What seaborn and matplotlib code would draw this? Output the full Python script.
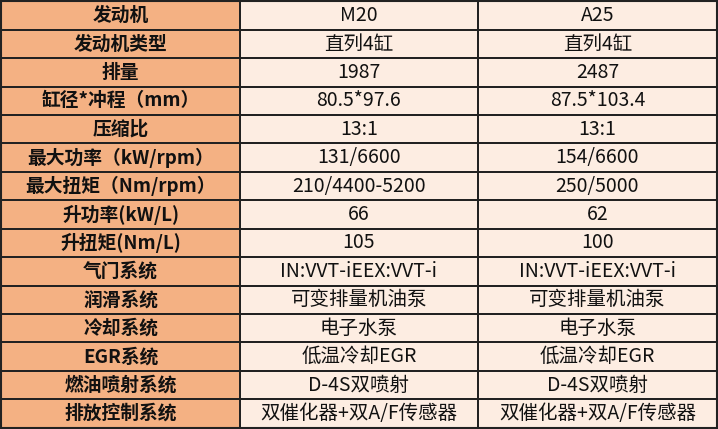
import matplotlib
matplotlib.use("Agg")
import matplotlib.pyplot as plt
import seaborn as sns
import numpy as np
from matplotlib.colors import ListedColormap

sns.set_theme(style="white")
plt.rcParams['font.family'] = ['Noto Sans CJK SC', 'DejaVu Sans']

labels = ["发动机", "发动机类型", "排量", "缸径*冲程（mm）", "压缩比", "最大功率（kW/rpm）",
          "最大扭矩（Nm/rpm）", "升功率(kW/L)", "升扭矩(Nm/L)", "气门系统", "润滑系统",
          "冷却系统", "EGR系统", "燃油喷射系统", "排放控制系统"]
m20 = ["M20", "直列4缸", "1987", "80.5*97.6", "13:1", "131/6600", "210/4400-5200", "66", "105",
       "IN:VVT-iEEX:VVT-i", "可变排量机油泵", "电子水泵", "低温冷却EGR", "D-4S双喷射", "双催化器+双A/F传感器"]
a25 = ["A25", "直列4缸", "2487", "87.5*103.4", "13:1", "154/6600", "250/5000", "62", "100",
       "IN:VVT-iEEX:VVT-i", "可变排量机油泵", "电子水泵", "低温冷却EGR", "D-4S双喷射", "双催化器+双A/F传感器"]

n = len(labels)
mat = np.array([[0, 1, 1]] * n)
fig = plt.figure(figsize=(7.18, 4.29), dpi=100)
ax = fig.add_axes([0.002, 0.003, 0.996, 0.994])
sns.heatmap(mat, cmap=ListedColormap(["#F4B183", "#FDEDE2"]), cbar=False,
            linewidths=1.2, linecolor="#222222", ax=ax, xticklabels=False, yticklabels=False)
for i in range(n):
    ax.text(0.5, i + 0.5, labels[i], ha="center", va="center", fontsize=13.5,
            fontweight="heavy", color="#111111")
    ax.text(1.5, i + 0.5, m20[i], ha="center", va="center", fontsize=14, color="#111111")
    ax.text(2.5, i + 0.5, a25[i], ha="center", va="center", fontsize=14, color="#111111")
for s in ax.spines.values():
    s.set_visible(True)
    s.set_color("#222222")
    s.set_linewidth(1.5)
fig.savefig("out.png", dpi=100)
